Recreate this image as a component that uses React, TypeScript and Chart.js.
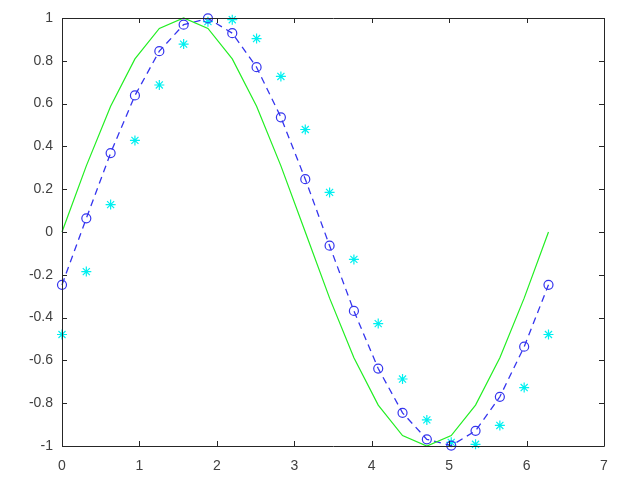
import React, { useEffect, useRef } from "react";
import { Chart, registerables } from "chart.js";

Chart.register(...registerables);

const xValues = [0, 0.314, 0.628, 0.942, 1.257, 1.571, 1.885, 2.199, 2.513, 2.827, 3.142, 3.456, 3.770, 4.084, 4.398, 4.712, 5.027, 5.341, 5.655, 5.969, 6.283];
const greenValues = [0, 0.309, 0.588, 0.809, 0.951, 1, 0.951, 0.809, 0.588, 0.309, 0, -0.309, -0.588, -0.809, -0.951, -1, -0.951, -0.809, -0.588, -0.309, 0];
const blueValues = [-0.247, 0.064, 0.369, 0.638, 0.845, 0.969, 0.998, 0.929, 0.770, 0.536, 0.247, -0.064, -0.369, -0.638, -0.845, -0.969, -0.998, -0.929, -0.770, -0.536, -0.247];
const cyanValues = [-0.479, -0.185, 0.128, 0.428, 0.687, 0.878, 0.983, 0.992, 0.904, 0.727, 0.479, 0.185, -0.128, -0.428, -0.687, -0.878, -0.983, -0.992, -0.904, -0.727, -0.479];
const xTicks = [0, 1, 2, 3, 4, 5, 6, 7];
const yTicks = [-1, -0.8, -0.6, -0.4, -0.2, 0, 0.2, 0.4, 0.6, 0.8, 1];

const AXIS_COLOR = "#262626";

const framePlugin = {
  id: "matlabFrame",
  afterDatasetsDraw(chart: any) {
    const { ctx, chartArea, scales } = chart;
    const { left, right, top, bottom } = chartArea;
    const tl = 5;
    ctx.save();
    ctx.strokeStyle = AXIS_COLOR;
    ctx.lineWidth = 1;
    ctx.beginPath();
    ctx.rect(Math.round(left) + 0.5, Math.round(top) + 0.5, Math.round(right - left), Math.round(bottom - top));
    for (const v of xTicks) {
      const px = Math.round(scales.x.getPixelForValue(v)) + 0.5;
      ctx.moveTo(px, bottom);
      ctx.lineTo(px, bottom - tl);
      ctx.moveTo(px, top);
      ctx.lineTo(px, top + tl);
    }
    for (const v of yTicks) {
      const py = Math.round(scales.y.getPixelForValue(v)) + 0.5;
      ctx.moveTo(left, py);
      ctx.lineTo(left + tl, py);
      ctx.moveTo(right, py);
      ctx.lineTo(right - tl, py);
    }
    ctx.stroke();
    ctx.restore();
  },
};

export default function App() {
  const canvasRef = useRef<HTMLCanvasElement>(null);

  useEffect(() => {
    if (!canvasRef.current) return;
    const toPts = (ys: number[]) => xValues.map((x, i) => ({ x, y: ys[i] }));
    const chart = new Chart(canvasRef.current, {
      type: "scatter",
      data: {
        datasets: [
          {
            data: toPts(greenValues),
            showLine: true,
            borderColor: "#22ee22",
            borderWidth: 1.2,
            pointRadius: 0,
            clip: false as any,
          },
          {
            data: toPts(blueValues),
            showLine: true,
            borderColor: "#3535ee",
            borderWidth: 1.3,
            borderDash: [7, 5],
            pointStyle: "circle",
            pointRadius: 4.5,
            pointBorderWidth: 1.2,
            pointBorderColor: "#3535ee",
            pointBackgroundColor: "rgba(0,0,0,0)",
            clip: false as any,
          },
          {
            data: toPts(cyanValues),
            showLine: false,
            pointStyle: "star",
            pointRadius: 5,
            pointBorderWidth: 1.2,
            pointBorderColor: "#00f0f0",
            pointBackgroundColor: "#00f0f0",
            clip: false as any,
          },
        ],
      },
      options: {
        animation: false,
        responsive: false,
        maintainAspectRatio: false,
        layout: { padding: { top: 18, right: 37, left: 0, bottom: 0 } },
        plugins: {
          legend: { display: false },
          tooltip: { enabled: false },
        },
        scales: {
          x: {
            type: "linear",
            min: 0,
            max: 7,
            afterFit: (s: any) => { s.height = 49; },
            afterBuildTicks: (s: any) => { s.ticks = xTicks.map((v) => ({ value: v })); },
            grid: { display: false, drawTicks: false },
            border: { display: false },
            ticks: {
              padding: 12,
              color: "#404040",
              font: { family: "'Liberation Sans', Arial, sans-serif", size: 14 },
              callback: (v: any) => String(v),
            },
          },
          y: {
            type: "linear",
            min: -1,
            max: 1,
            afterFit: (s: any) => { s.width = 62; },
            afterBuildTicks: (s: any) => { s.ticks = yTicks.map((v) => ({ value: v })); },
            grid: { display: false, drawTicks: false },
            border: { display: false },
            ticks: {
              padding: 9,
              color: "#404040",
              font: { family: "'Liberation Sans', Arial, sans-serif", size: 14 },
              callback: (v: any) => String(Math.round(Number(v) * 10) / 10),
            },
          },
        },
      },
      plugins: [framePlugin],
    });
    return () => chart.destroy();
  }, []);

  return (
    <div style={{ position: "fixed", left: 0, top: 0, width: 641, height: 495, background: "#fff" }}>
      <canvas ref={canvasRef} width={641} height={495} style={{ width: 641, height: 495 }} />
    </div>
  );
}
